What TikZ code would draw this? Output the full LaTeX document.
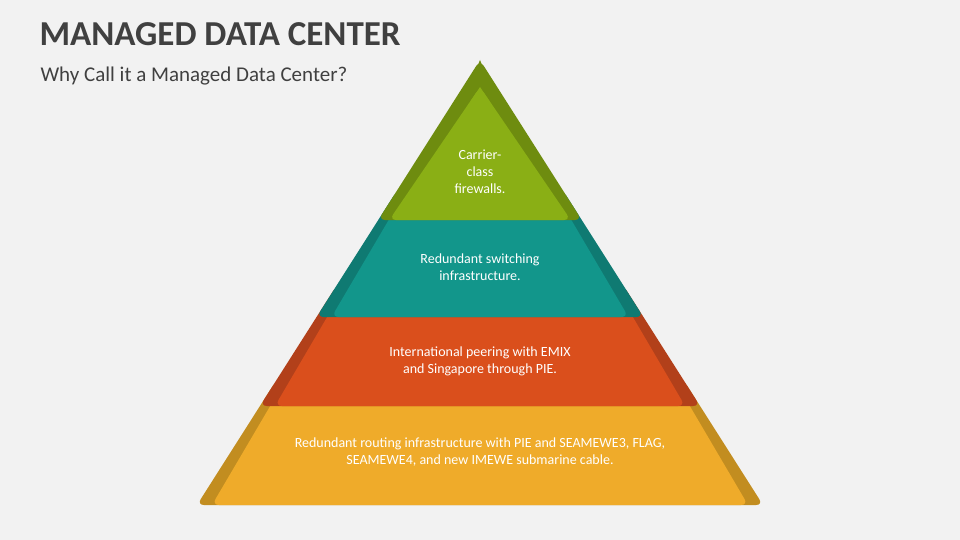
\documentclass[tikz,border=0pt]{standalone}
\usepackage{fontspec}
\setmainfont{Carlito}
\definecolor{bg}{HTML}{F2F2F2}
\definecolor{titlegray}{HTML}{404040}
\definecolor{greenD}{HTML}{6E8C0F}
\definecolor{greenL}{HTML}{8AAF15}
\definecolor{tealD}{HTML}{0F7A72}
\definecolor{tealL}{HTML}{12968B}
\definecolor{redD}{HTML}{B2401A}
\definecolor{redL}{HTML}{DA4F1C}
\definecolor{yelD}{HTML}{C28D20}
\definecolor{yelL}{HTML}{EFAB2A}
% one step of the pyramid: dark band, then lighter face
\newcommand\pyrlayer[4]{%
  \fill[#1,rounded corners=7pt] ({480-0.636*(#3-60)},#3) -- ({480+0.636*(#3-60)},#3)
    -- ({480+0.636*(#4-60)},#4) -- ({480-0.636*(#4-60)},#4) -- cycle;
  \fill[#2,rounded corners=7pt] ({489-0.636*(#3-60)},#3) -- ({471+0.636*(#3-60)},#3)
    -- ({465+0.636*(#4-60)},#4) -- ({495-0.636*(#4-60)},#4) -- cycle;}
\begin{document}
\begin{tikzpicture}[x=1pt,y=-1pt,
    steptext/.style={text=white,align=center,font=\fontsize{14}{17}\selectfont}]
\fill[bg] (0,0) rectangle (960,540);
\useasboundingbox (0,0) rectangle (960,540);

\node[anchor=west,text=titlegray,font=\fontsize{35}{40}\selectfont\bfseries] (title) at (36,34) {MANAGED DATA CENTER};
\node[anchor=west,text=titlegray,font=\fontsize{21}{25}\selectfont] (subtitle) at (37,76) {Why Call it a Managed Data Center?};

\pyrlayer{yelD}{yelL}{380}{505}
\pyrlayer{redD}{redL}{285}{406}
\pyrlayer{tealD}{tealL}{190}{317}
% top step
\fill[greenD,rounded corners=7pt] (480,60) -- ({480+0.636*160},220) -- ({480-0.636*160},220) -- cycle;
\fill[greenD] (480,60) -- ({480+0.636*30},107) -- ({480-0.636*30},107) -- cycle;
\fill[greenL,rounded corners=7pt] (480,87) -- ({480+0.636*160-11},220) -- ({480-0.636*160+11},220) -- cycle;
\fill[greenL] (480,87) -- (490,102) -- (470,102) -- cycle;

\node[steptext] (firewalls) at (480,172) {Carrier-\\class\\firewalls.};
\node[steptext] (switching) at (480,267) {Redundant switching\\infrastructure.};
\node[steptext] (peering) at (480,361) {International peering with EMIX\\and Singapore through PIE.};
\node[steptext] (routing) at (480,452) {Redundant routing infrastructure with PIE and SEAMEWE3, FLAG,\\SEAMEWE4, and new IMEWE submarine cable.};
\end{tikzpicture}
\end{document}
